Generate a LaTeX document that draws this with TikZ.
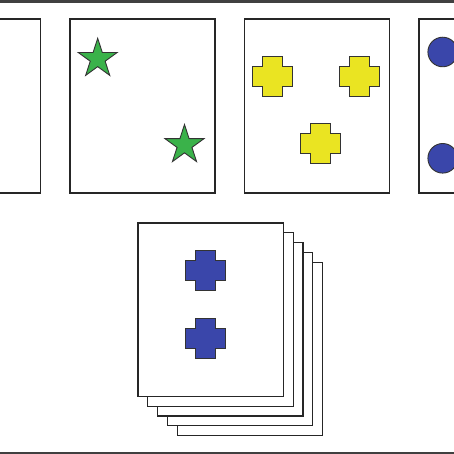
\documentclass[tikz,border=0pt]{standalone}
\usepackage{tikz}
\usepackage{xcolor}
\usetikzlibrary{shapes.geometric,
	positioning}

\definecolor{barGray}{RGB}{64,64,64}
\definecolor{starGreen}{RGB}{58,178,74}
\definecolor{plusYellow}{RGB}{234,228,34}
\definecolor{dotBlue}{RGB}{58,70,170}

\tikzset{
	card/.style={draw=black!85, line width=1.3pt, fill=white, minimum width=145pt,
		minimum height=174pt, inner sep=0pt, anchor=north west},
	starmark/.style={star, star points=5, star point ratio=2.618, minimum size=41pt,
		inner sep=0pt, draw=black!80, line width=0.9pt, fill=starGreen},
	dotmark/.style={circle, minimum size=29.6pt, inner sep=0pt, draw=black!80,
		line width=0.9pt, fill=dotBlue},
	plusmark/.pic={
		\filldraw[draw=black!80, line width=0.9pt, fill=#1]
		(-10,-20)--(10,-20)--(10,-10)--(20,-10)--(20,10)--(10,10)--(10,20)
		--(-10,20)--(-10,10)--(-20,10)--(-20,-10)--(-10,-10)--cycle;
	}
}

\begin{document}
\begin{tikzpicture}[x=1pt,y=-1pt]

        \useasboundingbox (0,0) rectangle (454,454);
        \clip (0,0) rectangle (454,454);
        \fill[white] (0,0) rectangle (454,454);

        \fill[barGray] (0,0) rectangle (454,2.7);
        \fill[barGray] (0,451.5) rectangle (454,454);

        \foreach \i/\x in {1/-105.5,2/69.3,3/243.8,4/418.3}
            \node[card] (card\i) at (\x,18.3) {};

        \node[starmark] (star1) at (97.7,58.8) {};
        \node[starmark] (star2) at (184.5,145) {};

        \pic (plusA) at (272.8,76.3) {plusmark=plusYellow};
        \pic (plusB) at (359.7,76.3) {plusmark=plusYellow};
        \pic (plusC) at (320.7,143.7) {plusmark=plusYellow};

        \node[dotmark] (dot1) at (442.7,52) {};
        \node[dotmark] (dot2) at (442.7,158.3) {};

        \foreach \k in {4,3,2,1}
            \node[card, minimum width=145.4pt, minimum height=173.4pt]
                (back\k) at (137.3+9.8*\k,222.3+9.8*\k) {};
        \node[card, minimum width=145.4pt, minimum height=173.4pt]
            (front) at (137.3,222.3) {};

        \pic (plusD) at (205.7,270.8) {plusmark=dotBlue};
        \pic (plusE) at (205.7,338) {plusmark=dotBlue};

\end{tikzpicture}
\end{document}
